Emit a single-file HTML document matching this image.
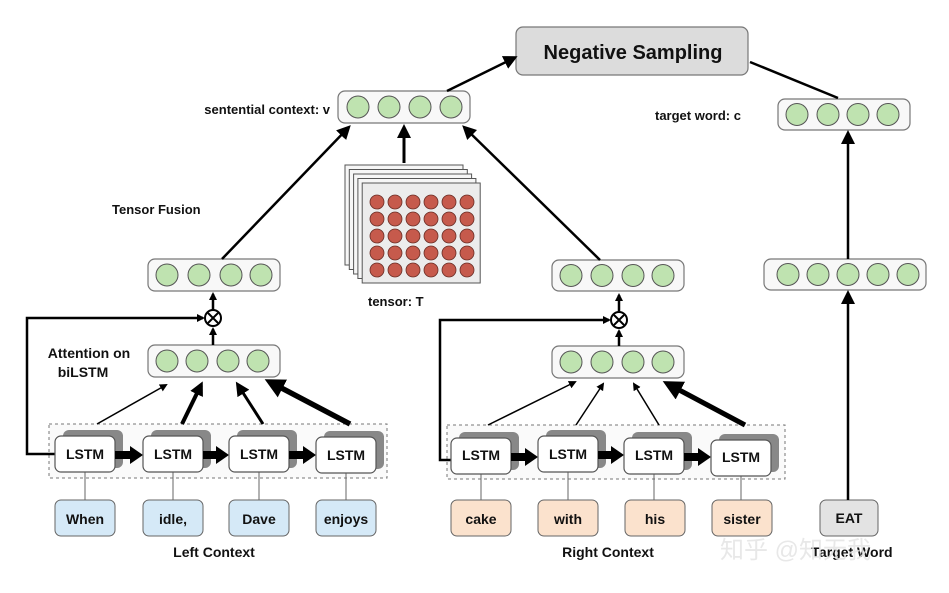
<!DOCTYPE html>
<html><head><meta charset="utf-8"><style>
html,body{margin:0;padding:0;background:#fff;}
svg text{font-family:"Liberation Sans",Arial,sans-serif;font-weight:bold;fill:#111;}
</style></head><body>
<svg id="s" width="949" height="588" viewBox="0 0 949 588" xmlns="http://www.w3.org/2000/svg">
<defs>
<marker id="a" markerWidth="8" markerHeight="8" refX="6" refY="4" orient="auto" markerUnits="userSpaceOnUse"><path d="M0,0 L8,4 L0,8 z" fill="#000"/></marker>
<marker id="b" markerWidth="14" markerHeight="14" refX="10" refY="7" orient="auto" markerUnits="userSpaceOnUse"><path d="M0,0 L14,7 L0,14 z" fill="#000"/></marker>
<marker id="c" markerWidth="20" markerHeight="20" refX="14" refY="10" orient="auto" markerUnits="userSpaceOnUse"><path d="M0,0 L20,10 L0,20 z" fill="#000"/></marker>
</defs>
<g id="shapes"></g>

<g stroke="#000" fill="none">
<line x1="447" y1="91" x2="514" y2="58" stroke-width="2.5" marker-end="url(#b)"/>
<line x1="750" y1="62" x2="838" y2="98" stroke-width="2.5"/>
<line x1="222" y1="259" x2="348" y2="128" stroke-width="2.5" marker-end="url(#b)"/>
<line x1="404" y1="163" x2="404" y2="128" stroke-width="3" marker-end="url(#b)"/>
<line x1="600" y1="260" x2="465" y2="128" stroke-width="2.5" marker-end="url(#b)"/>
<line x1="848" y1="259" x2="848" y2="134" stroke-width="2.5" marker-end="url(#b)"/>
<line x1="848" y1="500" x2="848" y2="294" stroke-width="2.5" marker-end="url(#b)"/>
<polyline points="55,454 27,454 27,318 203,318" stroke-width="2.5" marker-end="url(#a)"/>
<line x1="213" y1="345" x2="213" y2="329" stroke-width="2.5" marker-end="url(#a)"/>
<line x1="213" y1="310" x2="213" y2="294" stroke-width="2.5" marker-end="url(#a)"/>
<line x1="97" y1="424" x2="166" y2="385" stroke-width="1.5" marker-end="url(#a)"/>
<line x1="182" y1="424" x2="201" y2="385" stroke-width="4" marker-end="url(#b)"/>
<line x1="263" y1="424" x2="238" y2="385" stroke-width="3" marker-end="url(#b)"/>
<line x1="350" y1="424" x2="270" y2="382" stroke-width="5.5" marker-end="url(#c)"/>
<polyline points="451,460 440,460 440,320 609,320" stroke-width="2.5" marker-end="url(#a)"/>
<line x1="619" y1="346" x2="619" y2="331" stroke-width="2.5" marker-end="url(#a)"/>
<line x1="619" y1="311" x2="619" y2="295" stroke-width="2.5" marker-end="url(#a)"/>
<line x1="488" y1="425" x2="575" y2="382" stroke-width="1.5" marker-end="url(#a)"/>
<line x1="576" y1="425" x2="603" y2="384" stroke-width="1.5" marker-end="url(#a)"/>
<line x1="659" y1="425" x2="634" y2="384" stroke-width="1.5" marker-end="url(#a)"/>
<line x1="745" y1="425" x2="668" y2="384" stroke-width="5" marker-end="url(#c)"/>
</g>
<g id="top"></g>

<text x="633" y="59" font-size="20" text-anchor="middle" style="font-weight:600">Negative Sampling</text>
<text x="330" y="114" font-size="13" text-anchor="end">sentential context: v</text>
<text x="655" y="120" font-size="13">target word: c</text>
<text x="112" y="214" font-size="13">Tensor Fusion</text>
<text x="368" y="306" font-size="13">tensor: T</text>
<text x="89" y="358" font-size="14" text-anchor="middle">Attention on</text>
<text x="83" y="377" font-size="14" text-anchor="middle">biLSTM</text>
<text x="214" y="557" font-size="14" text-anchor="middle">Left Context</text>
<text x="608" y="557" font-size="14" text-anchor="middle">Right Context</text>
<text x="852" y="557" font-size="14" text-anchor="middle">Target Word</text>
<text x="720" y="558" font-size="24" style="font-weight:normal;fill:#e4e4e4;font-family:'Liberation Sans','Noto Sans CJK SC',sans-serif" opacity="0.85">知乎 @知无我</text>

<g font-size="14" text-anchor="middle">
<text x="85" y="459">LSTM</text><text x="173" y="459">LSTM</text><text x="259" y="459">LSTM</text><text x="346" y="460">LSTM</text>
<text x="481" y="460">LSTM</text><text x="568" y="459">LSTM</text><text x="654" y="460">LSTM</text><text x="741" y="462">LSTM</text>
<text x="85" y="524">When</text><text x="173" y="524">idle,</text><text x="259" y="524">Dave</text><text x="346" y="524">enjoys</text>
<text x="481" y="524">cake</text><text x="568" y="524">with</text><text x="655" y="524">his</text><text x="742" y="524">sister</text>
<text x="849" y="523">EAT</text>
</g>
<script>
var NS="http://www.w3.org/2000/svg",g=document.getElementById('shapes'),t=document.getElementById('top');
function el(p,n,a){var e=document.createElementNS(NS,n);for(var k in a)e.setAttribute(k,a[k]);p.appendChild(e);return e;}
el(g,'rect',{x:516,y:27,width:232,height:48,rx:7,fill:'#dcdcdc',stroke:'#777','stroke-width':1.2});
function vec(x,y,w,h,cx){el(g,'rect',{x:x,y:y,width:w,height:h,rx:7,fill:'#f8f8f8',stroke:'#777','stroke-width':1.2});
cx.forEach(function(c){el(g,'circle',{cx:c,cy:y+h/2,r:11,fill:'#bfe3b0',stroke:'#555','stroke-width':1});});}
vec(338,91,132,32,[358,389,420,451]);
vec(778,99,132,31,[797,828,858,888]);
vec(148,259,132,32,[167,199,231,261]);
vec(552,260,132,31,[571,602,633,663]);
vec(764,259,162,31,[788,818,848,878,908]);
vec(148,345,132,32,[167,197,228,258]);
vec(552,346,132,32,[571,602,633,663]);
for(var i=0;i<5;i++){el(g,'rect',{x:345+i*4.3,y:165+i*4.5,width:118,height:100,fill:i==4?'#ececec':'#f6f6f6',stroke:'#555','stroke-width':1});}
for(var r=0;r<5;r++)for(var c=0;c<6;c++)el(g,'circle',{cx:377+c*18,cy:202+r*17,r:7,fill:'#c65a4c',stroke:'#6a2d25','stroke-width':0.8});
[[213,318],[619,320]].forEach(function(p){el(g,'circle',{cx:p[0],cy:p[1],r:8,fill:'#fff',stroke:'#000','stroke-width':2});
el(g,'path',{d:'M'+(p[0]-5)+','+(p[1]-5)+'L'+(p[0]+5)+','+(p[1]+5)+'M'+(p[0]+5)+','+(p[1]-5)+'L'+(p[0]-5)+','+(p[1]+5),stroke:'#000','stroke-width':2});});
el(g,'rect',{x:49,y:424,width:338,height:54,fill:'#fafafa',stroke:'#777','stroke-dasharray':'3,3'});
el(g,'rect',{x:447,y:425,width:338,height:54,fill:'#fafafa',stroke:'#777','stroke-dasharray':'3,3'});
var L=[[55,436],[143,436],[229,436],[316,437],[451,438],[538,436],[624,438],[711,440]];
L.forEach(function(b,i){el(g,'rect',{x:b[0]+8,y:b[1]-6,width:60,height:38,rx:6,fill:'#888'});});
L.forEach(function(b,i){el(t,'rect',{x:b[0],y:b[1],width:60,height:36,rx:6,fill:'#fff',stroke:'#555','stroke-width':1.2});
 if(i%4<3){var n=L[i+1];var y=b[1]+19;el(t,'rect',{x:b[0]+60,y:y-4,width:(n[0]-b[0]-60)-12,height:8,fill:'#000'});
 el(t,'path',{d:'M'+(n[0]-13)+','+(y-9)+'L'+n[0]+','+y+'L'+(n[0]-13)+','+(y+9)+'z',fill:'#000'});}
 el(g,'line',{x1:b[0]+30,y1:b[1]+36,x2:b[0]+30,y2:500,stroke:'#666','stroke-width':1});});
var W=[[55,'#d5e9f7'],[143,'#d5e9f7'],[229,'#d5e9f7'],[316,'#d5e9f7'],[451,'#fbe2cd'],[538,'#fbe2cd'],[625,'#fbe2cd'],[712,'#fbe2cd'],[820,'#e3e3e3']];
W.forEach(function(w){el(g,'rect',{x:w[0],y:500,width:w[0]==820?58:60,height:36,rx:6,fill:w[1],stroke:'#666','stroke-width':1});});
</script>
</svg>
</body></html>
